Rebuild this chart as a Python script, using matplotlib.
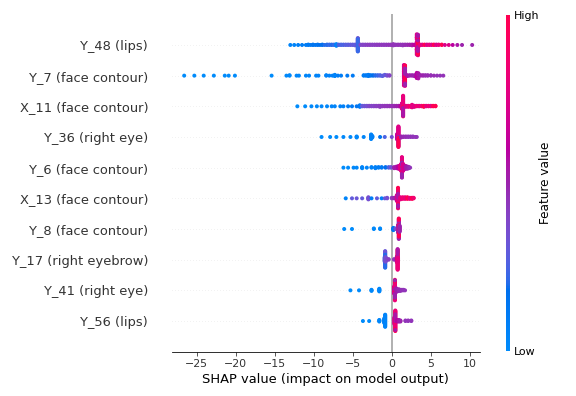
import numpy as np
import matplotlib
matplotlib.use("Agg")
import matplotlib.pyplot as plt
from matplotlib.colors import LinearSegmentedColormap
from matplotlib.cm import ScalarMappable
from matplotlib.colors import Normalize

# ---------------- data: (shap value, number of samples, feature value 0..1) ----------------
features = ["Y_48 (lips)", "Y_7 (face contour)", "X_11 (face contour)", "Y_36 (right eye)",
            "Y_6 (face contour)", "X_13 (face contour)", "Y_8 (face contour)",
            "Y_17 (right eyebrow)", "Y_41 (right eye)", "Y_56 (lips)"]

y48 = [(-13.0,1,0.05),(-12.5,1,0.05),(-12.0,1,0.08),(-11.5,1,0.1),(-11.0,1,0.1),(-10.7,2,0.12),
       (-10.4,1,0.12),(-10.1,2,0.15),(-9.8,1,0.15),(-9.5,2,0.15),(-9.2,1,0.18),(-8.9,2,0.18),
       (-8.6,1,0.2),(-8.3,2,0.2),(-8.0,2,0.22),(-7.7,2,0.2),(-7.4,2,0.22),(-7.1,5,0.05),
       (-6.8,2,0.25),(-6.5,2,0.25),(-6.2,2,0.25),(-5.9,2,0.28),(-5.6,2,0.28),(-5.3,2,0.3),
       (-5.0,2,0.3),(-4.7,3,0.3),(-4.35,26,0.32),(-4.35,10,0.22),(-4.0,2,0.38),(-3.7,2,0.4),
       (-3.4,2,0.4),(-3.1,2,0.42),(-2.8,2,0.42),(-2.5,2,0.42),(-2.2,2,0.42),(-1.9,2,0.43),
       (-1.6,2,0.43),(-1.3,2,0.44),(-1.0,2,0.44),(-0.7,2,0.44),(-0.4,2,0.45),(-0.1,2,0.45),
       (0.2,4,0.45),(0.5,2,0.45),(0.8,2,0.46),(1.1,2,0.46),(1.4,3,0.46),(1.7,2,0.47),
       (2.0,2,0.48),(2.3,2,0.5),(2.6,3,0.55),(2.9,2,0.6),(3.2,16,0.72),(3.35,26,0.78),
       (3.35,8,1.0),(3.35,6,0.55),(3.6,3,0.8),(3.9,2,0.75),(4.2,2,1.0),(4.5,2,0.72),
       (4.8,2,0.8),(5.1,2,0.75),(5.4,2,1.0),(5.7,2,0.72),(6.0,2,0.8),(6.4,2,1.0),(6.8,1,0.72),
       (7.3,1,0.75),(7.8,1,0.6),(8.4,1,0.55),(9.0,1,0.5),(10.3,1,0.5)]

y7 = [(-26.6,1,0.0),(-25.3,1,0.0),(-24.1,1,0.0),(-22.8,1,0.0),(-21.4,1,0.0),(-20.9,1,0.0),
      (-20.1,1,0.0),(-15.4,1,0.0),(-13.5,1,0.02),(-13.1,2,0.02),(-12.2,1,0.03),(-11.9,1,0.03),
      (-11.0,1,0.04),(-10.6,1,0.04),(-9.7,1,0.05),(-9.4,1,0.05),(-8.4,2,0.06),(-8.0,1,0.06),
      (-7.6,1,0.08),(-7.3,4,0.05),(-6.9,1,0.1),(-6.5,1,0.1),(-5.7,1,0.12),(-5.0,1,0.12),
      (-3.6,2,0.1),(-3.3,2,0.12),(-3.0,4,0.1),(-2.7,2,0.15),(-2.4,2,0.18),(-2.1,2,0.2),
      (-1.8,2,0.22),(-1.5,2,0.25),(-1.2,2,0.28),(-0.9,2,0.3),(-0.6,2,0.35),(-0.3,2,0.4),
      (1.55,14,0.72),(1.7,24,0.78),(1.7,10,1.0),(1.7,6,0.5),(2.0,3,0.55),(2.3,2,0.5),
      (2.6,2,0.5),(2.9,3,0.5),(3.2,10,0.6),(3.4,5,0.55),(3.7,2,0.5),(4.0,2,0.5),(4.3,2,0.48),
      (4.6,2,0.48),(5.0,2,0.47),(5.4,1,0.47),(5.8,1,0.46),(6.2,1,0.46),(6.6,1,0.46)]

x11 = [(-12.1,1,0.0),(-11.1,1,0.0),(-10.3,1,0.02),(-9.6,1,0.02),(-9.0,1,0.03),(-8.3,1,0.03),
       (-7.7,1,0.05),(-7.3,1,0.05),(-6.6,1,0.06),(-6.2,1,0.08),(-5.6,1,0.1),(-5.1,1,0.12),
       (-4.5,1,0.15),(-4.1,4,0.12),(-3.8,2,0.3),(-3.5,2,0.33),(-3.2,2,0.35),(-2.9,2,0.38),
       (-2.6,2,0.4),(-2.3,2,0.4),(-2.0,2,0.42),(-1.7,2,0.42),(-1.5,3,0.43),(-1.2,2,0.44),
       (-0.9,2,0.45),(-0.6,2,0.45),(-0.3,2,0.46),(0.0,2,0.47),(0.3,2,0.48),(0.6,2,0.5),
       (0.9,2,0.52),(1.15,3,0.6),(1.3,12,0.75),(1.45,24,0.8),(1.45,12,1.0),(1.45,6,0.55),
       (1.8,3,0.75),(2.1,3,0.8),(2.4,3,0.9),(2.6,6,0.78),(2.9,3,0.75),(3.2,2,0.85),(3.5,2,0.78),
       (3.8,2,0.85),(4.1,3,1.0),(4.4,2,0.78),(4.7,2,0.85),(5.0,2,0.78),(5.3,2,1.0),(5.6,2,1.0)]

y36 = [(-9.0,1,0.0),(-7.9,1,0.0),(-7.1,1,0.0),(-6.2,1,0.02),(-5.3,1,0.02),(-4.5,3,0.03),
       (-3.6,1,0.04),(-2.65,10,0.05),(-2.5,4,0.08),(-1.5,1,0.15),(-0.9,1,0.25),(0.0,1,0.35),
       (0.7,12,0.6),(0.85,22,0.75),(0.85,12,0.5),(0.85,8,1.0),(1.2,3,0.5),(1.5,2,0.48),
       (1.8,2,0.47),(2.1,2,0.46),(2.4,2,0.46),(2.7,2,0.45),(3.0,1,0.45),(3.2,1,0.45)]

y6 = [(-6.2,1,0.0),(-5.6,1,0.0),(-4.9,1,0.02),(-4.5,1,0.03),(-3.8,3,0.04),(-3.2,1,0.05),
      (-2.6,2,0.06),(-2.1,3,0.08),(-1.7,2,0.1),(-1.3,2,0.12),(-0.8,2,0.18),(-0.4,2,0.25),
      (-0.1,2,0.35),(0.3,3,0.5),(0.6,4,0.55),(0.85,6,0.6),(1.05,8,0.75),(1.2,14,0.78),
      (1.3,22,0.78),(1.3,10,1.0),(1.3,8,0.5),(1.45,14,0.72),(1.6,8,0.7),(1.8,6,0.55),
      (2.0,5,0.5),(2.2,3,0.48),(2.35,1,0.45)]

x13 = [(-5.9,1,0.05),(-5.1,1,0.3),(-4.5,1,0.32),(-3.8,1,0.3),(-3.0,5,0.35),(-2.6,1,0.1),
       (-1.9,1,0.3),(-1.3,1,0.08),(-0.9,1,0.3),(-0.6,2,0.35),(0.0,2,0.45),(0.3,2,0.5),
       (0.65,12,0.7),(0.8,22,0.8),(0.8,12,1.0),(0.8,6,0.55),(1.1,5,0.78),(1.4,4,0.85),
       (1.7,4,0.8),(2.0,4,1.0),(2.3,3,0.8),(2.6,3,1.0),(2.8,2,0.85)]

y8 = [(-6.1,1,0.0),(-5.1,1,0.0),(-2.3,2,0.02),(-1.5,2,0.02),(0.2,5,0.15),(0.5,2,0.35),
      (0.8,14,0.5),(0.9,22,0.5),(0.9,10,0.85),(0.9,6,1.0),(1.0,12,0.5)]

y17 = [(-0.9,10,0.25),(-0.85,28,0.32),(-0.85,6,0.2),(-0.8,10,0.35),(-0.6,2,0.38),(-0.4,2,0.42),
       (0.3,2,0.45),(0.65,12,0.6),(0.75,24,0.82),(0.75,12,1.0),(0.75,6,0.55),(0.8,8,0.78)]

y41 = [(-5.3,1,0.0),(-4.2,1,0.0),(-2.6,3,0.02),(-1.6,6,0.03),(0.3,14,0.7),(0.4,22,0.82),
       (0.4,12,1.0),(0.4,6,0.5),(0.55,8,0.55),(0.7,5,0.5),(0.9,4,0.48),(1.1,3,0.47),
       (1.3,2,0.46),(1.5,2,0.45),(1.7,1,0.45)]

y56 = [(-3.7,1,0.0),(-2.9,1,0.0),(-1.6,4,0.03),(-0.95,10,0.08),(-0.85,24,0.05),(0.35,14,0.7),
       (0.45,22,0.82),(0.45,12,1.0),(0.45,6,0.55),(0.7,4,0.6),(0.9,4,0.55),(1.1,3,0.5),
       (1.75,2,0.45),(2.1,2,0.45),(2.5,2,0.45)]

rows = [y48, y7, x11, y36, y6, x13, y8, y17, y41, y56]
xticks = [-25, -20, -15, -10, -5, 0, 5, 10]

# ---------------- SHAP red_blue colormap (LCh interpolation) ----------------
def lch2rgb(l, c, h):
    a, b = c * np.cos(h), c * np.sin(h)
    fy = (l + 16) / 116.0
    fx = a / 500.0 + fy
    fz = fy - b / 200.0
    def finv(t):
        return t ** 3 if t ** 3 > 0.008856 else (t - 16 / 116.0) / 7.787
    X, Y, Z = 0.95047 * finv(fx), finv(fy), 1.08883 * finv(fz)
    M = np.array([[3.2404542, -1.5371385, -0.4985314],
                  [-0.9692660, 1.8760108, 0.0415560],
                  [0.0556434, -0.2040259, 1.0572252]])
    rgb = M @ np.array([X, Y, Z])
    out = np.where(rgb > 0.0031308, 1.055 * np.abs(rgb) ** (1 / 2.4) - 0.055, 12.92 * rgb)
    return np.clip(out, 0, 1)

blue_lch = [54., 70., 4.6588]
red_lch = [54., 90., 0.35470565 + 2 * np.pi]
l_mid = 40.
nsteps = 100
l_vals = list(np.linspace(blue_lch[0], l_mid, nsteps // 2)) + list(np.linspace(l_mid, red_lch[0], nsteps // 2))
c_vals = np.linspace(blue_lch[1], red_lch[1], nsteps)
h_vals = np.linspace(blue_lch[2], red_lch[2], nsteps)
cols = [lch2rgb(l, c, h) for l, c, h in zip(l_vals, c_vals, h_vals)]
red_blue = LinearSegmentedColormap.from_list("red_blue", cols)

# ---------------- beeswarm layout ----------------
def swarm(shaps, row_height=0.4, nbins=100):
    N = len(shaps)
    quant = np.round(nbins * (shaps - shaps.min()) / (shaps.max() - shaps.min() + 1e-8))
    tie = (np.arange(N) * 0.6180339887) % 1.0
    inds = np.lexsort((tie, quant))
    layer, last = 0, -1
    ys = np.zeros(N)
    for ind in inds:
        if quant[ind] != last:
            layer = 0
        ys[ind] = np.ceil(layer / 2) * ((layer % 2) * 2 - 1)
        layer += 1
        last = quant[ind]
    ys *= 0.9 * (row_height / np.max(ys + 1))
    return ys

fig = plt.figure(figsize=(8, 5.5), dpi=72)
ax = fig.add_axes([0.2981, 0.1119, 0.5352, 0.852])
axis_color = "#333333"
n = len(features)
ax.axvline(0, color="#999999", zorder=-1)
for i, data in enumerate(rows):
    pos = n - 1 - i
    ax.axhline(pos, color="#cccccc", lw=0.5, dashes=(1, 5), zorder=-1)
    arr = np.array(data)
    shaps = np.repeat(arr[:, 0], arr[:, 1].astype(int))
    cv = np.repeat(arr[:, 2], arr[:, 1].astype(int))
    ys = swarm(shaps)
    ax.scatter(shaps, pos + ys, c=cv, cmap=red_blue, vmin=0, vmax=1, s=16,
               linewidth=0, alpha=1, zorder=3, rasterized=True)

ax.set_xlim(-28.2, 11.3)
ax.set_ylim(-1, n)
ax.set_xticks(xticks)
ax.xaxis.set_ticks_position("bottom")
ax.yaxis.set_ticks_position("none")
for s in ["right", "top", "left"]:
    ax.spines[s].set_visible(False)
ax.tick_params(color=axis_color, labelcolor=axis_color)
ax.set_yticks(range(n))
ax.set_yticklabels(features[::-1], fontsize=13)
ax.tick_params("y", length=20, width=0.5, which="major")
ax.tick_params("x", labelsize=11)
ax.set_xlabel("SHAP value (impact on model output)", fontsize=13)

cax = fig.add_axes([0.8785, 0.1144, 0.0069, 0.8477])
sm = ScalarMappable(cmap=red_blue, norm=Normalize(0, 1))
sm.set_array([0, 1])
cb = fig.colorbar(sm, cax=cax, ticks=[0, 1])
cb.set_ticklabels(["Low", "High"])
cb.set_label("Feature value", size=12, labelpad=0)
cb.ax.tick_params(labelsize=11, length=0)
cb.outline.set_visible(False)

fig.savefig("out.png", dpi=72)
